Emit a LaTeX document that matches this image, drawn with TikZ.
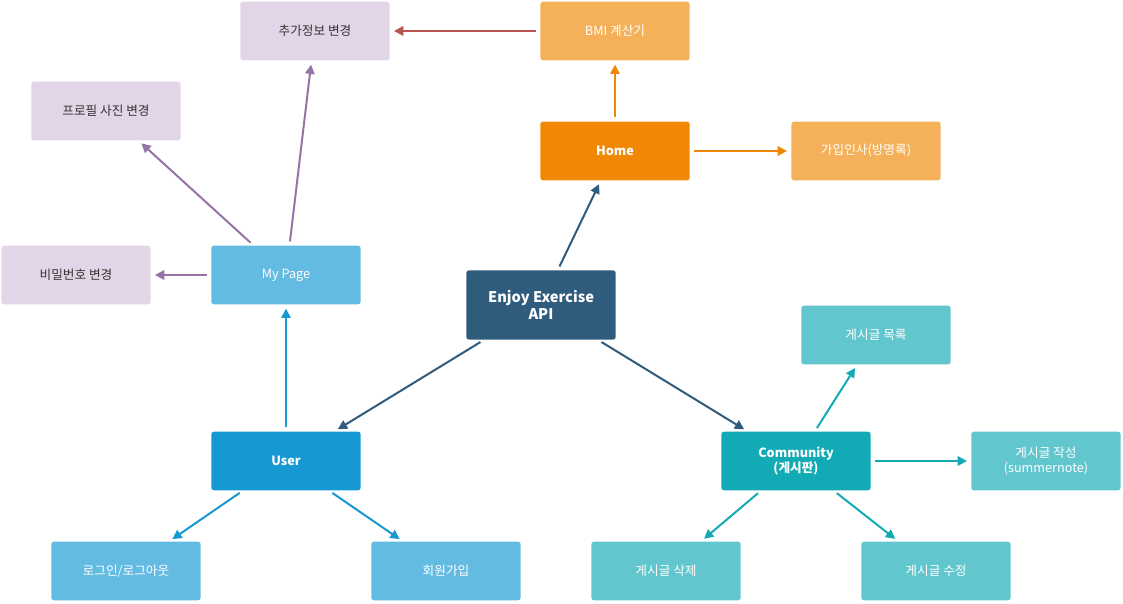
\documentclass[tikz,border=0pt]{standalone}
\usepackage{fontspec}
\setmainfont{Noto Sans CJK KR}
\usetikzlibrary{arrows.meta}
\definecolor{cpurL}{HTML}{E1D5E7}
\definecolor{cpur}{HTML}{9673A6}
\definecolor{cred}{HTML}{B85450}
\definecolor{corL}{HTML}{F5B05A}
\definecolor{cor}{HTML}{F08705}
\definecolor{cbluL}{HTML}{64BBE2}
\definecolor{cblu}{HTML}{1699D3}
\definecolor{cnavy}{HTML}{2F5B7C}
\definecolor{ctealL}{HTML}{61C6CE}
\definecolor{cteal}{HTML}{12AAB5}
\begin{document}
\begin{tikzpicture}[x=0.75pt,y=-0.75pt,
  box/.style={rectangle, rounded corners=2pt, draw=none, minimum width=112pt, minimum height=44pt, align=center, font=\fontsize{9.5}{11.5}\selectfont},
  lbox/.style={box, fill=cpurL, text=black!80},
  wbox/.style={box, text=white},
  bbox/.style={box, text=white, font=\fontsize{9.5}{11.5}\selectfont\bfseries},
  arr/.style={line width=1.5pt, -{Triangle[length=7pt,width=7pt]}, shorten >=3pt, shorten <=3pt}]
\useasboundingbox (0,0) rectangle (1123,603);

\node[lbox] (info) at (315,31) {추가정보 변경};
\node[wbox, fill=corL] (bmi) at (615,31) {BMI 계산기};
\node[lbox] (photo) at (106,111) {프로필 사진 변경};
\node[bbox, fill=cor] (home) at (615,151) {Home};
\node[wbox, fill=corL] (guest) at (866,151) {가입인사(방명록)};
\node[lbox] (pw) at (76,275) {비밀번호 변경};
\node[wbox, fill=cbluL] (mypage) at (286,275) {My Page};
\node[bbox, fill=cnavy, minimum height=52pt, font=\fontsize{11}{13}\selectfont\bfseries] (api) at (541,305) {Enjoy Exercise\\API};
\node[wbox, fill=ctealL] (list) at (876,335) {게시글 목록};
\node[bbox, fill=cblu] (user) at (286,461) {User};
\node[bbox, fill=cteal] (comm) at (796,461) {Community\\(게시판)};
\node[wbox, fill=ctealL] (write) at (1046,461) {게시글 작성\\(summernote)};
\node[wbox, fill=cbluL] (login) at (126,571) {로그인/로그아웃};
\node[wbox, fill=cbluL] (join) at (446,571) {회원가입};
\node[wbox, fill=ctealL] (del) at (666,571) {게시글 삭제};
\node[wbox, fill=ctealL] (edit) at (936,571) {게시글 수정};

\draw[arr, cnavy] (api) -- (home);
\draw[arr, cnavy] (api) -- (user);
\draw[arr, cnavy] (api) -- (comm);
\draw[arr, cor] (home) -- (bmi);
\draw[arr, cor] (home) -- (guest);
\draw[arr, cred] (bmi) -- (info);
\draw[arr, cpur] (mypage) -- (info);
\draw[arr, cpur] (mypage) -- (photo);
\draw[arr, cpur] (mypage) -- (pw);
\draw[arr, cblu] (user) -- (mypage);
\draw[arr, cblu] (user) -- (login);
\draw[arr, cblu] (user) -- (join);
\draw[arr, cteal] (comm) -- (list);
\draw[arr, cteal] (comm) -- (write);
\draw[arr, cteal] (comm) -- (del);
\draw[arr, cteal] (comm) -- (edit);
\end{tikzpicture}
\end{document}
